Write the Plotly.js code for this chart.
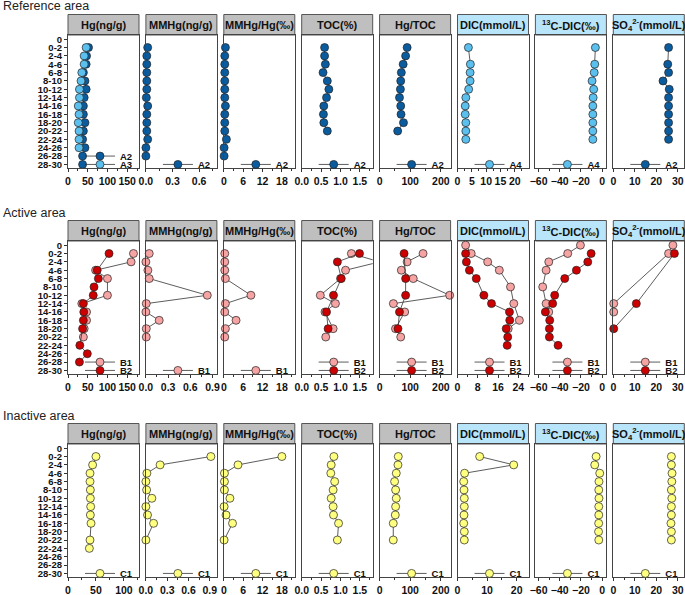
<!DOCTYPE html>
<html>
<head>
<meta charset="utf-8">
<script src="https://cdn.plot.ly/plotly-3.0.1.min.js"></script>
<style>html,body{margin:0;padding:0;background:#fff;}#chart{width:685px;height:595px;}</style>
</head>
<body>
<div id="chart"></div>
<script>
// ---------- categories ----------
const depth = ["0","0-2","2-4","4-6","6-8","8-10","10-12","12-14","14-16","16-18","18-20","20-22","22-24","24-26","26-28","28-30"];
const headers = ["Hg(ng/g)","MMHg(ng/g)","MMHg/Hg(‰)","TOC(%)","Hg/TOC","DIC(mmol/L)","<sup>13</sup>C-DIC(‰)","SO<sub>4</sub><sup>2-</sup>(mmol/L)"];
const rowTitles = ["Reference area","Active area","Inactive area"];

// ---------- Reference area ----------
const refHgA2    = [null,52,47,46,39,43,46,41,39,39,43,39,37,43,37,37];
const refHgA3    = [null,46,41,41,35,33,29,29,26,28,26,28,28,28,null,null];
const refMMHgA2  = [null,0.02,0.01,0.01,0.01,0.01,0.01,0.005,0.02,0.01,0.01,0.01,0.02,0.0,0.0,null];
const refRatioA2 = [null,0.5,0.3,0.3,0.3,0.3,0.3,0.3,0.5,0.3,0.3,0.3,0.8,0.1,0.1,null];
const refTocA2   = [null,0.59,0.59,0.61,0.55,0.66,0.70,0.64,0.57,0.56,0.57,0.66,null,null,null,null];
const refHgTocA2 = [null,90,85,77,71,69,68,65,69,70,78,59,null,null,null,null];
const refDicA4   = [null,3.8,null,4.5,4.4,4.4,3.9,2.9,2.7,2.7,2.9,2.9,2.9,null,null,null];
const refC13A4   = [null,-6.4,null,-7.0,-7.5,-9.5,-8.0,-8.5,-8.8,-8.8,-8.8,-8.8,-8.8,null,null,null];
const refSo4A2   = [null,25.7,null,25.3,25.7,23.1,26.0,25.7,25.7,25.7,25.7,25.7,25.7,null,null,null];

// ---------- Active area ----------
const actHgB1    = [null,166,160,70,100,null,100,35,47,47,41,39,null,null,null,null];
const actHgB2    = [null,104,null,74,77,66,64,39,40,39,37,null,30,49,29,null];
const actMMHgB1  = [null,0.045,0.0,0.027,0.045,null,0.83,0.005,0.0,0.18,0.005,0.005,null,null,null,null];
const actRatioB1 = [null,0.3,0.3,0.3,0.5,null,8.4,0.5,0.3,3.8,0.5,0.3,null,null,null,null];
const actTocB1   = [null,1.28,2.01,1.13,1.0,null,0.48,0.87,0.60,null,0.81,0.62,null,null,null,null];
const actTocB2   = [null,1.49,0.92,null,1.02,null,0.82,null,0.64,null,0.68,null,null,null,null,null];
const actHgTocB1 = [null,142,90,71,110,null,229,45,82,null,52,69,null,null,null,null];
const actHgTocB2 = [null,80,null,null,85,null,85,null,65,null,60,null,null,null,null,null];
const actDicB1   = [3.2,5.4,11.9,16.5,null,20.9,null,22.2,null,24.4,20.0,null,null,null,null,null];
const actDicB2   = [null,3.2,3.5,4.7,7.4,null,10.4,13.4,20.5,20.6,19.2,19.8,19.6,null,null,null];
const actC13B1   = [-20.5,-32.5,-50.4,-52.9,null,-56.1,null,-52.9,-50.4,null,null,null,null,null,null,null];
const actC13B2   = [null,-10.4,-13.6,-24.3,-35.3,null,-44.8,-46.7,-53.6,-49.5,-49.8,-49.8,-41.6,null,null,null];
const actSo4B1   = [27.7,25.7,null,null,null,null,null,0.2,0.2,null,null,null,null,null,null,null];
const actSo4B2   = [null,28.4,null,null,null,null,null,10.7,null,null,0.2,null,null,null,null,null];

// ---------- Inactive area ----------
const inaHgC1    = [null,50,44,39.4,39.4,40,40,40.6,40,41.2,null,39.4,38.2,null,null,null];
const inaMMHgC1  = [null,0.915,0.20,0.014,0.0,0.01,0.084,0.0,0.023,0.108,null,0.0,null,null,null,null];
const inaRatioC1 = [null,18.0,4.4,0.2,0.2,0.2,1.9,0.1,0.7,2.7,null,0.1,null,null,null,null];
const inaTocC1   = [null,0.83,0.76,0.75,0.85,0.81,0.76,0.81,0.82,0.95,null,0.92,null,null,null,null];
const inaHgTocC1 = [null,61,60,54.5,49,52.3,54.5,52.3,51.2,44.7,null,44.7,null,null,null,null];
const inaDicC1   = [null,7.5,19.0,2.4,2.1,2.2,2.3,2.3,2.2,2.1,2.3,2.3,null,null,null,null];
const inaC13C1   = [null,-5.7,-7.0,-2.3,-3.0,-3.2,-3.0,-3.2,-3.2,-3.3,-3.4,-3.2,null,null,null,null];
const inaSo4C1   = [null,27.0,27.0,27.3,27.2,27.0,27.2,27.0,27.0,26.8,27.0,27.0,null,null,null,null];

// ---------- styles ----------
const COL = {A2:"#0b5c9e", A3:"#5cc0ef", A4:"#5cc0ef", B1:"#f5a3a3", B2:"#cc0000", C1:"#ffff80"};
const FONT = "Liberation Sans, Arial, sans-serif";

const rows = [
  [ {s:[["A2",refHgA2],["A3",refHgA3]], r:[0,180], d:50, m:25, f:""},
    {s:[["A2",refMMHgA2]], r:[0,0.8], d:0.3, m:0.15, f:".1f"},
    {s:[["A2",refRatioA2]], r:[0,22], d:6, m:3, f:""},
    {s:[["A2",refTocA2]], r:[0,1.83], d:0.5, m:0.25, f:".1f"},
    {s:[["A2",refHgTocA2]], r:[0,232], d:100, m:50, f:""},
    {s:[["A4",refDicA4]], r:[0,24.8], d:5, m:2.5, f:""},
    {s:[["A4",refC13A4]], r:[-63,4], d:20, m:10, f:""},
    {s:[["A2",refSo4A2]], r:[0,33], d:10, m:5, f:""} ],
  [ {s:[["B1",actHgB1],["B2",actHgB2]], r:[0,180], d:50, m:25, f:""},
    {s:[["B1",actMMHgB1]], r:[0,0.96], d:0.3, m:0.15, f:".1f"},
    {s:[["B1",actRatioB1]], r:[0,22], d:6, m:3, f:""},
    {s:[["B1",actTocB1],["B2",actTocB2]], r:[0,1.83], d:0.5, m:0.25, f:".1f"},
    {s:[["B1",actHgTocB1],["B2",actHgTocB2]], r:[0,232], d:100, m:50, f:""},
    {s:[["B1",actDicB1],["B2",actDicB2]], r:[0,28], d:8, m:4, f:""},
    {s:[["B1",actC13B1],["B2",actC13B2]], r:[-63,4], d:20, m:10, f:""},
    {s:[["B1",actSo4B1],["B2",actSo4B2]], r:[0,33], d:10, m:5, f:""} ],
  [ {s:[["C1",inaHgC1]], r:[0,127], d:50, m:25, f:""},
    {s:[["C1",inaMMHgC1]], r:[0,1.0], d:0.3, m:0.15, f:".1f"},
    {s:[["C1",inaRatioC1]], r:[0,22], d:6, m:3, f:""},
    {s:[["C1",inaTocC1]], r:[0,1.83], d:0.5, m:0.25, f:".1f"},
    {s:[["C1",inaHgTocC1]], r:[0,232], d:100, m:50, f:""},
    {s:[["C1",inaDicC1]], r:[0,24], d:10, m:5, f:""},
    {s:[["C1",inaC13C1]], r:[-63,4], d:20, m:10, f:""},
    {s:[["C1",inaSo4C1]], r:[0,33], d:10, m:5, f:""} ]
];

const W = 685, H = 595;
const L0 = 68, STEP = 77.9, PW = 71;
const UNIT = 8.35, YLO = 15.45, YHI = -0.5;
const PH = (YLO - YHI) * UNIT;
const rowTop = [35, 241, 444];
const headTop = [14.5, 220.5, 423.5];
const titleY = [6, 213, 416];
const px = p => p / W, py = p => 1 - p / H;

const data = [], shapes = [], annotations = [];
const layout = {
  width: W, height: H, margin: {l:0, r:0, t:0, b:0},
  paper_bgcolor: "#fff", plot_bgcolor: "#fff", showlegend: true,
  font: {family: FONT, color: "#111"}
};

let n = 0, lg = 0;
rows.forEach((row, ri) => {
  annotations.push({xref:"paper", yref:"paper", x:px(1), y:py(titleY[ri]), xanchor:"left", yanchor:"middle",
    text: rowTitles[ri], showarrow:false, font:{family:FONT, size:12.5, color:"#222"}});
  row.forEach((p, ci) => {
    n++;
    const xa = n === 1 ? "xaxis" : "xaxis" + n;
    const ya = n === 1 ? "yaxis" : "yaxis" + n;
    const xr = n === 1 ? "x" : "x" + n;
    const yr = n === 1 ? "y" : "y" + n;
    const left = L0 + STEP * ci, right = left + PW;
    const top = rowTop[ri], bot = top + PH;
    layout[xa] = {domain:[px(left), px(right)], anchor:yr, range:p.r, autorange:false,
      tick0:0, dtick:p.d, tickformat:p.f, ticks:"outside", ticklen:3, tickwidth:1, tickcolor:"#333",
      minor:{ticks:"outside", ticklen:2, dtick:p.m, tick0:0, tickcolor:"#333"},
      showgrid:false, zeroline:false, showline:true, mirror:true, linecolor:"#444", linewidth:1,
      tickfont:{family:FONT, size:10.5, weight:700, color:"#111"}, fixedrange:true};
    layout[ya] = {domain:[py(bot), py(top)], anchor:xr, type:"category", categoryarray:depth,
      range:[YLO, YHI], autorange:false, showgrid:false, zeroline:false,
      tickmode:"linear", tick0:0, dtick:1,
      showline:true, mirror:true, linecolor:"#444", linewidth:1,
      ticks: ci === 0 ? "outside" : "", ticklen:3, tickcolor:"#333",
      showticklabels: ci === 0, tickfont:{family:FONT, size:9.5, weight:700, color:"#111"}, fixedrange:true};
    // header box
    shapes.push({type:"rect", xref:"paper", yref:"paper", x0:px(left), x1:px(right), y0:py(top), y1:py(headTop[ri]),
      fillcolor: ci < 5 ? "#bfbfbf" : "#b9e5fa", line:{color:"#555", width:1}, layer:"below"});
    annotations.push({xref:"paper", yref:"paper", x:px((left+right)/2), y:py((top+headTop[ri])/2),
      xanchor:"center", yanchor:"middle", text:headers[ci], showarrow:false,
      font:{family:FONT, size:11, weight:700, color:"#111"}});
    const ns = p.s.length;
    p.s.forEach((s, si) => {
      lg++;
      const lid = lg === 1 ? "legend" : "legend" + lg;
      const idx = 15 - (ns - 1 - si);
      data.push({type:"scatter", mode:"lines+markers", name:s[0], x:s[1], y:depth,
        xaxis:xr, yaxis:yr, connectgaps:true, cliponaxis:false, legend:lid,
        line:{color:"#333", width:0.8},
        marker:{symbol:"circle", size:8, color:COL[s[0]], line:{color:"#222", width:0.7}},
        hoverinfo:"skip"});
      layout[lid] = {x:px(right - 1), y:py(top + (idx + 0.5) * UNIT), xanchor:"right", yanchor:"middle",
        bgcolor:"rgba(0,0,0,0)", borderwidth:0, itemwidth:30, tracegroupgap:0,
        font:{family:FONT, size:9.5, weight:700, color:"#111"}, itemclick:false, itemdoubleclick:false};
    });
  });
});
layout.shapes = shapes;
layout.annotations = annotations;
Plotly.newPlot("chart", data, layout, {staticPlot:true, displayModeBar:false});
</script>
</body>
</html>
